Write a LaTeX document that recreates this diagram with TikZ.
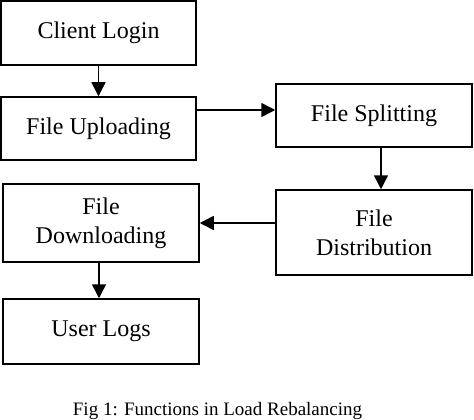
\documentclass[tikz,border=0pt]{standalone}
\usepackage{fontspec}
\setmainfont{Liberation Serif}
\usetikzlibrary{arrows.meta}
\begin{document}
\begin{tikzpicture}[x=1pt,y=-1pt,line width=1.5pt,>={Triangle[length=14pt,width=14pt]}]
  \tikzstyle{block}=[draw,rectangle,align=center,inner sep=0pt,font=\fontsize{24}{29}\selectfont]
  \useasboundingbox (0,0) rectangle (474,420);
  \node[block,minimum width=195pt,minimum height=64pt] (login)    at (98.5,33)   {Client Login};
  \node[block,minimum width=195pt,minimum height=63pt] (upload)   at (98.5,128.5) {File Uploading};
  \node[block,minimum width=196pt,minimum height=63pt] (split)    at (374,115.5) {File Splitting};
  \node[block,minimum width=196pt,minimum height=85pt] (distrib)  at (374,232.5) {File\\Distribution};
  \node[block,minimum width=196pt,minimum height=78pt] (download) at (101,223)   {File\\Downloading};
  \node[block,minimum width=196pt,minimum height=65pt] (logs)     at (101,331.5) {User Logs};
  \node[anchor=base,font=\fontsize{19}{23}\selectfont] (caption) at (217.5,415) {Fig 1: Functions in Load Rebalancing};
  \coordinate (up_out) at (upload.east |- 0,110);
  \draw[->] (login) -- (upload);
  \draw[->] (up_out) -- (up_out -| split.west);
  \draw[->] ([xshift=7pt]split.south) -- ([xshift=7pt]distrib.north);
  \draw[->] (distrib.west |- download.east) -- (download.east);
  \draw[->] ([xshift=-2pt]download.south) -- ([xshift=-2pt]logs.north);
\end{tikzpicture}
\end{document}
